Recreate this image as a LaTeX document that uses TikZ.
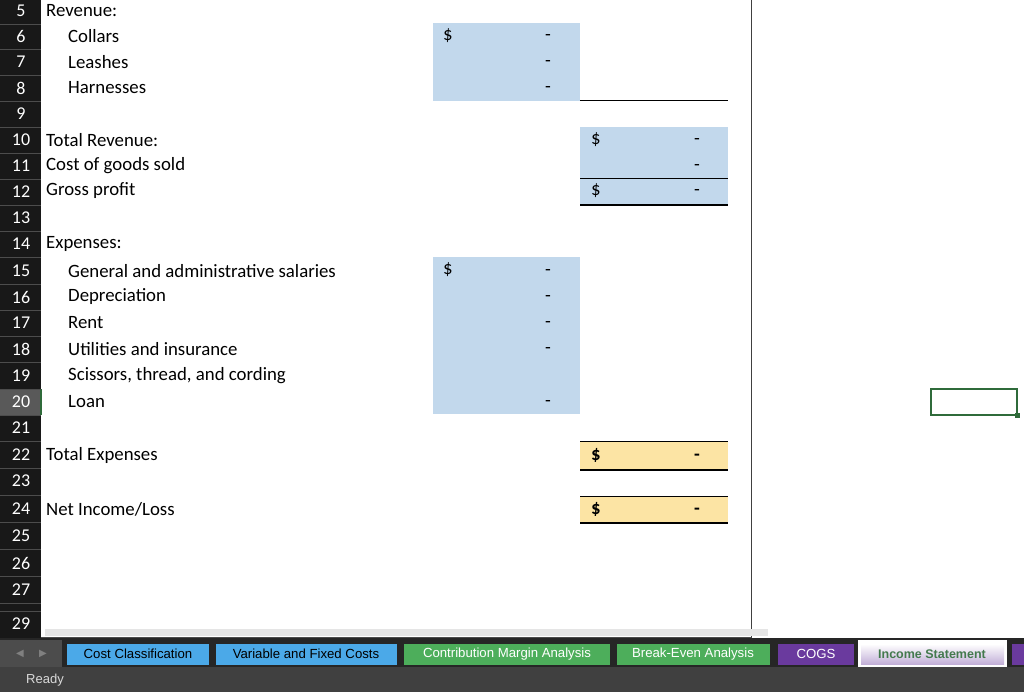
\documentclass[tikz,border=0pt]{standalone}
\usepackage{fontspec}
\setmainfont{Carlito}
\newfontfamily\tabfont{Liberation Sans}
\newfontfamily\symfont{DejaVu Sans}
\definecolor{cellblue}{HTML}{C2D8EC}
\definecolor{cellyel}{HTML}{FCE4A4}
\definecolor{hdr}{HTML}{181818}
\definecolor{tabblue}{HTML}{4BA9E8}
\definecolor{tabgreen}{HTML}{4DAE5B}
\definecolor{tabpurple}{HTML}{6A3A9E}
\definecolor{selgreen}{HTML}{2F6B3A}
\begin{document}
\begin{tikzpicture}[x=1pt,y=-1pt,
  lbl/.style={anchor=west,inner sep=0,font=\fontsize{18.8}{18.8}\selectfont},
  rn/.style={anchor=center,inner sep=0,text=white,font=\fontsize{18}{18}\selectfont},
  val/.style={anchor=center,inner sep=0,font=\fontsize{18.8}{18.8}\selectfont},
  tabtxt/.style={anchor=center,inner sep=0,font=\tabfont\fontsize{13.2}{13.2}\selectfont}]
\useasboundingbox (0,0) rectangle (1024,692);
\fill[white] (0,0) rectangle (1024,692);
% row header
\fill[hdr] (0,0) rectangle (41,638);
\fill[gray!70!black] (0,389) rectangle (41,415);
\draw[selgreen,line width=1.5] (41,389) -- (41,415);
\foreach \b in {24,49,75,101,127,153,179,205,231,257,284,310,336,362,389,415,441,468,495,522,549,576,603,611}
  \draw[gray!60!black,line width=0.8] (0,\b) -- (41,\b);
\foreach \r/\c in {5/11,6/36,7/62,8/88,9/114,10/140,11/166,12/192,13/218,14/244,15/271,16/297,17/323,18/349,19/376,20/402,21/428,22/455,23/481,24/509,25/536,26/563,27/590,29/624}
  \node[rn] (r\r) at (21,\c) {\r};
% sheet edge
\draw[gray!50!black,line width=1] (751,0) -- (751,638);
\fill[gray!20] (45,629) rectangle (768,636);
\draw[gray!60!black,line width=0.8] (41,637) -- (751,637);
% cells
\fill[cellblue] (433,23) rectangle (580,101);
\draw[black,line width=1] (580,101) -- (728,101);
\fill[cellblue] (580,127) rectangle (728,205);
\draw[black,line width=1] (580,179) -- (728,179);
\draw[black,line width=2] (580,205) -- (728,205);
\fill[cellblue] (433,257) rectangle (580,414);
\fill[cellyel] (580,441) rectangle (728,470);
\draw[black,line width=1] (580,441) -- (728,441);
\draw[black,line width=2] (580,470) -- (728,470);
\fill[cellyel] (580,496) rectangle (728,523);
\draw[black,line width=1] (580,496) -- (728,496);
\draw[black,line width=2] (580,523) -- (728,523);
% labels
\node[lbl] (l5) at (46,11) {Revenue:};
\node[lbl] (l6) at (68,36) {Collars};
\node[lbl] (l7) at (68,62) {Leashes};
\node[lbl] (l8) at (68,88) {Harnesses};
\node[lbl] (l10) at (46,140) {Total Revenue:};
\node[lbl] (l11) at (46,166) {Cost of goods sold};
\node[lbl] (l12) at (46,191) {Gross profit};
\node[lbl] (l14) at (46,244) {Expenses:};
\node[lbl] (l15) at (68,271) {General and administrative salaries};
\node[lbl] (l16) at (68,297) {Depreciation};
\node[lbl] (l17) at (68,323) {Rent};
\node[lbl] (l18) at (68,349) {Utilities and insurance};
\node[lbl] (l19) at (68,376) {Scissors, thread, and cording};
\node[lbl] (l20) at (68,402) {Loan};
\node[lbl] (l22) at (46,455) {Total Expenses};
\node[lbl] (l24) at (46,509) {Net Income/Loss};
% values
\node[val] (d6) at (448,36) {\$};
\foreach \y in {38,64,90,273,299,325,351,404} \node[val] at (548,\y) {-};
\node[val] (d15) at (448,270) {\$};
\node[val] (d10) at (596,140) {\$};
\foreach \y in {142,168,193} \node[val] at (697,\y) {-};
\node[val] (d12) at (596,191) {\$};
\node[val] (d22) at (596,455) {\textbf{\$}};
\node[val] (m22) at (697,457) {\textbf{-}};
\node[val] (d24) at (596,509) {\textbf{\$}};
\node[val] (m24) at (697,511) {\textbf{-}};
% selected cell
\draw[selgreen,line width=1.5] (931,389) rectangle (1017,415);
\fill[selgreen] (1014.5,412.5) rectangle (1019.5,417.5);
% tab bar
\fill[black!85] (0,638) rectangle (1024,667);
\fill[black!70] (0,640) rectangle (62,667);
\node[text=gray,font=\symfont\fontsize{10}{10}\selectfont] (la) at (20,654) {◀};
\node[text=gray,font=\symfont\fontsize{10}{10}\selectfont] (ra) at (43,654) {▶};
\fill[tabblue] (67,644) rectangle (209,665);
\node[tabtxt] (t1) at (138,654) {Cost Classification};
\fill[tabblue] (216,644) rectangle (397,665);
\node[tabtxt] (t2) at (306,654) {Variable and Fixed Costs};
\fill[tabgreen] (404,644) rectangle (610,665);
\node[tabtxt,text=white] (t3) at (507,654) {Contribution Margin Analysis};
\fill[tabgreen] (617,644) rectangle (770,665);
\node[tabtxt,text=white] (t4) at (693,654) {Break-Even Analysis};
\fill[tabpurple] (778,644) rectangle (854,665);
\node[tabtxt,text=white] (t5) at (816,654) {COGS};
\fill[white] (858,640) rectangle (1007,667);
\shade[top color=white,bottom color=tabpurple!40] (861,644) rectangle (1004,664);
\node[tabtxt,text=selgreen!90,font=\tabfont\bfseries\fontsize{12.5}{12.5}\selectfont] (t6) at (932,654) {Income Statement};
\fill[tabpurple] (1012,644) rectangle (1024,665);
% status bar
\fill[black!75] (0,667) rectangle (1024,692);
\node[anchor=west,inner sep=0,text=gray!30,font=\tabfont\fontsize{13}{13}\selectfont] (st) at (26,680) {Ready};
\end{tikzpicture}
\end{document}
